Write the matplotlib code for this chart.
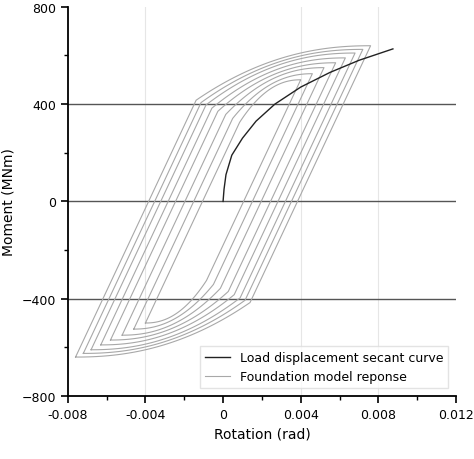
import numpy as np
import matplotlib
matplotlib.use("Agg")
import matplotlib.pyplot as plt
from matplotlib.ticker import MultipleLocator

# loop peaks
peak_rot = [0.0040, 0.0046, 0.0052, 0.0058, 0.0063, 0.0068, 0.0072, 0.0076]
peak_mom = [500, 525, 550, 570, 590, 610, 625, 640]
unload_stiffness = 170000.0   # MNm/rad, slope of the straight unloading parts
bend_ratio = 0.65             # moment at the bend, relative to peak
# secant curve
sec_x = [0.0, 0.00005, 0.00015, 0.00045, 0.0010, 0.0017, 0.00267, 0.0040, 0.0055, 0.0070, 0.00875]
sec_m = [0, 50, 110, 190, 260, 330, 400, 470, 530, 580, 627]

def upper_branch(A, M):
    Mb = bend_ratio * M
    xb = -A + (M + Mb) / unload_stiffness
    t = np.linspace(0, 1, 60)
    xs = np.concatenate([[-A], xb + (A - xb) * t])
    ms = np.concatenate([[-M], Mb + (M - Mb) * (1 - (1 - t) ** 2.2)])
    return xs, ms

fig = plt.figure(figsize=(4.74, 4.60), dpi=100)
ax = fig.add_axes([0.143, 0.137, 0.819, 0.846])
for v in [-0.004, 0.004, 0.008]:
    ax.axvline(v, color='#e6e6e6', lw=0.8, zorder=0)
for h in [-400, 0, 400]:
    ax.axhline(h, color='#555555', lw=1.0, zorder=1)

for i, (A, M) in enumerate(zip(peak_rot, peak_mom)):
    ux, um = upper_branch(A, M)
    xs = np.concatenate([ux, -ux[1:]])
    ms = np.concatenate([um, -um[1:]])
    ax.plot(xs, ms, color='#a8a8a8', lw=0.8, zorder=2,
            label='Foundation model reponse' if i == 0 else None)
ax.plot(sec_x, sec_m, color='#222222', lw=1.0, zorder=3, label='Load displacement secant curve')

ax.set_xlim(-0.008, 0.012)
ax.set_ylim(-800, 800)
ax.set_xticks([-0.008, -0.004, 0, 0.004, 0.008, 0.012])
ax.set_xticklabels(['-0.008', '-0.004', '0', '0.004', '0.008', '0.012'])
ax.set_yticks([-800, -400, 0, 400, 800])
ax.xaxis.set_minor_locator(MultipleLocator(0.002))
ax.yaxis.set_minor_locator(MultipleLocator(200))
for s in ['top', 'right']:
    ax.spines[s].set_visible(False)
ax.spines['left'].set_linewidth(1.3)
ax.spines['bottom'].set_linewidth(1.3)
ax.tick_params(labelsize=9, width=1.2, length=5)
ax.tick_params(which='minor', width=1.0, length=3)
ax.set_xlabel('Rotation (rad)', fontsize=10)
ax.set_ylabel('Moment (MNm)', fontsize=10)
h, l = ax.get_legend_handles_labels()
ax.legend(h[::-1], l[::-1], loc='lower right', fontsize=9, fancybox=False,
          edgecolor='#dddddd', borderaxespad=0.6)
fig.savefig('out.png', dpi=100)
